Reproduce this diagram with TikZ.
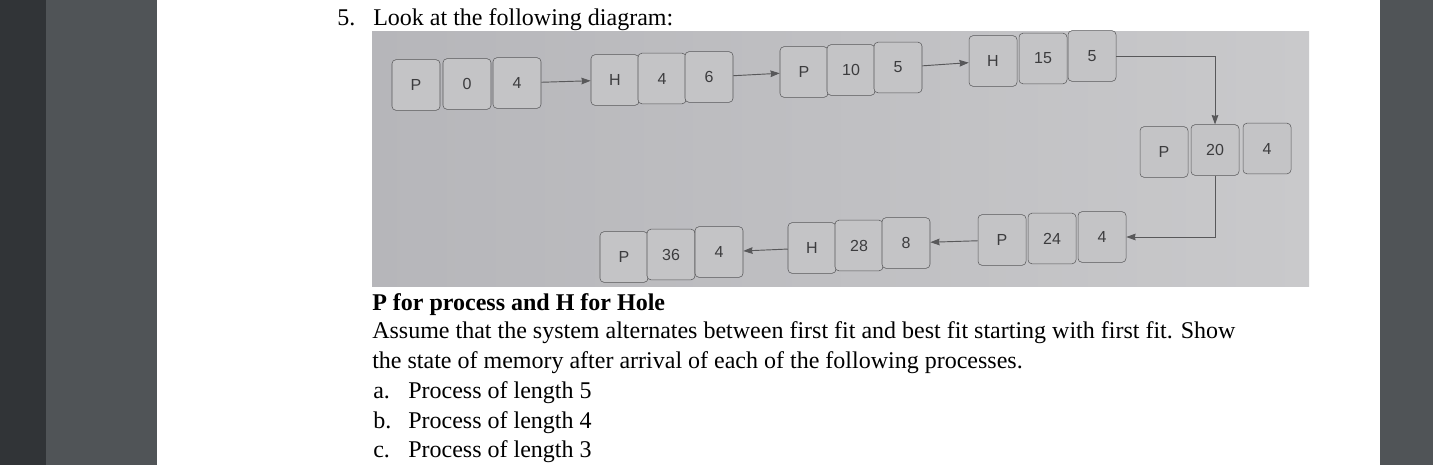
\documentclass[tikz,border=0pt]{standalone}
\usepackage{fontspec}
\setmainfont{Liberation Serif}
\newfontfamily\cellfont{Liberation Sans}
\usetikzlibrary{arrows.meta}

\definecolor{sidedark}{RGB}{49,52,55}
\definecolor{sidegray}{RGB}{80,84,87}
\definecolor{photoL}{RGB}{182,182,186}
\definecolor{photoR}{RGB}{201,201,203}
\definecolor{cellfill}{RGB}{196,196,198}
\definecolor{cellline}{RGB}{88,88,90}
\definecolor{celltext}{RGB}{60,60,62}

\begin{document}
\begin{tikzpicture}[x=0.75pt,y=-0.75pt]
\useasboundingbox (0,0) rectangle (1433,465);
% viewer and page
\fill[sidedark] (0,0) rectangle (46,465);
\fill[sidegray] (46,0) rectangle (157,465);
\fill[white] (157,0) rectangle (1380,465);
\fill[sidegray] (1380,0) rectangle (1433,465);
\shade[left color=photoL, right color=photoR] (372,31) rectangle (1309,286);

\begin{scope}[every node/.style={rectangle,rounded corners=3pt,draw=cellline,fill=cellfill,
        minimum width=36pt,minimum height=38pt,inner sep=0pt,text=celltext,
        font=\cellfont\fontsize{12}{12}\selectfont}]
    \node (b1t) at (416, 85) {P};
    \node (b1s) at (467, 84) {0};
    \node (b1l) at (517, 83) {4};

    \node (b2t) at (615, 80) {H};
    \node (b2s) at (662, 78.5) {4};
    \node (b2l) at (709, 77) {6};

    \node (b3t) at (804, 72) {P};
    \node (b3s) at (851, 70) {10};
    \node (b3l) at (898, 67.5) {5};

    \node (b4t) at (993, 61) {H};
    \node (b4s) at (1043, 58.5) {15};
    \node (b4l) at (1092, 56) {5};

    \node (b5t) at (1164, 152) {P};
    \node (b5s) at (1215, 150) {20};
    \node (b5l) at (1267, 148.5) {4};

    \node (b6t) at (1002, 240) {P};
    \node (b6s) at (1052, 238.5) {24};
    \node (b6l) at (1102, 237) {4};

    \node (b7t) at (812, 248) {H};
    \node (b7s) at (859, 245.5) {28};
    \node (b7l) at (906, 243) {8};

    \node (b8t) at (624, 257) {P};
    \node (b8s) at (671, 254.5) {36};
    \node (b8l) at (719, 252) {4};
\end{scope}

\begin{scope}[>={Stealth[length=7pt,width=5pt,inset=0.6pt]},
              every edge/.style={draw=cellline,line width=0.7pt}]
    \path [->] (b1l) edge (b2t);
    \path [->] (b2l) edge (b3t);
    \path [->] (b3l) edge (b4t);
    \draw [->,cellline,line width=0.7pt] (b4l) -| (b5s);
    \draw [->,cellline,line width=0.7pt] (b5s) |- (b6l);
    \path [->] (b6t) edge (b7l);
    \path [->] (b7t) edge (b8l);
\end{scope}

\begin{scope}[every node/.style={anchor=base west,inner sep=0pt,font=\fontsize{18}{22}\selectfont}]
    \node (num) at (337, 25) {5.};
    \node (look) at (373, 25) {Look at the following diagram:};
    \node (key) at (372, 310) {\textbf{P for process and H for Hole}};
    \node (ask1) at (372, 338) {Assume that the system alternates between first fit and best fit starting with first fit. Show};
    \node (ask2) at (372, 368) {the state of memory after arrival of each of the following processes.};
    \node (la) at (373, 398) {a.};
    \node (pa) at (408, 398) {Process of length 5};
    \node (lb) at (373, 428) {b.};
    \node (pb) at (408, 428) {Process of length 4};
    \node (lc) at (373, 457) {c.};
    \node (pc) at (408, 457) {Process of length 3};
\end{scope}
\end{tikzpicture}
\end{document}
